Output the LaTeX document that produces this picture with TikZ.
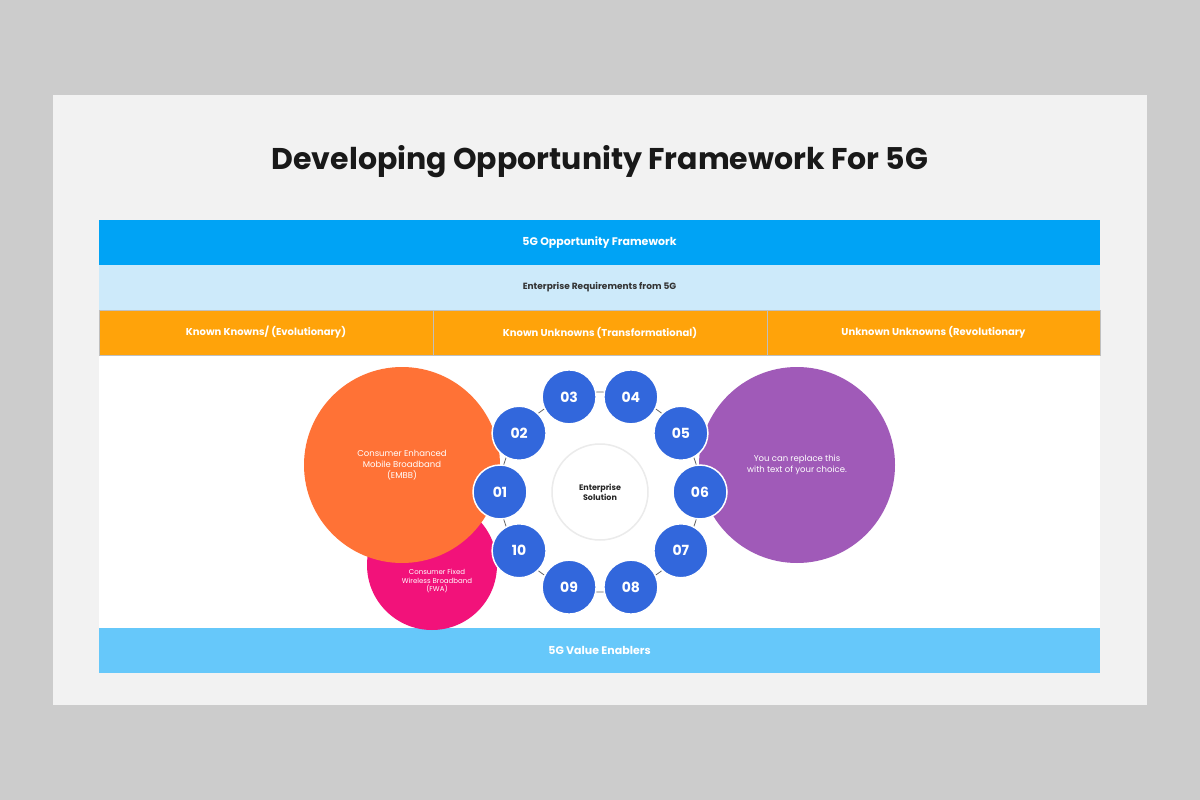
\documentclass[tikz,border=0pt]{standalone}
\usepackage{fontspec}
\setmainfont{Poppins}
\usepackage{tikz}
\definecolor{PageGray}{HTML}{CCCCCC}
\definecolor{SlideGray}{HTML}{F2F2F2}
\definecolor{BarBlue}{HTML}{00A3F5}
\definecolor{BarLight}{HTML}{CDEAFA}
\definecolor{BarOrange}{HTML}{FFA30A}
\definecolor{BarSky}{HTML}{66C8FA}
\definecolor{DotBlue}{HTML}{3267DC}
\definecolor{EmbbOrange}{HTML}{FF7236}
\definecolor{FwaPink}{HTML}{F2127A}
\definecolor{ChoicePurple}{HTML}{A05AB8}
\usetikzlibrary{calc}

\begin{document}
\begin{tikzpicture}[
		x=1pt, y=-1pt,
		bar/.style={minimum height=45pt, inner sep=0pt, font=\fontsize{11}{13}\selectfont\bfseries},
		dot/.style={circle, fill=DotBlue, draw=white, line width=1.5pt, minimum size=54pt, inner sep=0pt, text=white, font=\fontsize{14}{16}\selectfont\bfseries},
		bubble/.style={circle, inner sep=0pt, align=center, text=white}
	]
		\fill[PageGray] (0,0) rectangle (1200,800);
		\useasboundingbox (0,0) rectangle (1200,800);
		\fill[SlideGray] (53,95) rectangle (1147,705);
		\node[font=\fontsize{30}{36}\selectfont\bfseries, text=black!90] (title) at (600,162) {Developing Opportunity Framework For 5G};

		% bars
		\node[bar, fill=BarBlue, text=white, minimum width=1001pt] (frame) at (599.5,242.5) {5G Opportunity Framework};
		\node[bar, fill=BarLight, text=black!80, minimum width=1001pt, font=\fontsize{9}{11}\selectfont\bfseries] (req) at (599.5,287.5) {Enterprise Requirements from 5G};
		\fill[white] (99,355) rectangle (1100,628);
		\node[bar, fill=BarOrange, draw=black!25, text=white, minimum width=334pt, font=\fontsize{10}{12}\selectfont\bfseries] (known) at (266,332.5) {Known Knowns/ (Evolutionary)};
		\node[bar, fill=BarOrange, draw=black!25, text=white, minimum width=334pt, font=\fontsize{10}{12}\selectfont\bfseries] (trans) at (600,332.5) {Known Unknowns (Transformational)};
		\node[bar, fill=BarOrange, draw=black!25, text=white, minimum width=333pt, font=\fontsize{10}{12}\selectfont\bfseries] (revo) at (933.5,332.5) {Unknown Unknowns (Revolutionary};
		\node[bar, fill=BarSky, text=white, minimum width=1001pt] (enablers) at (599.5,650) {5G Value Enablers};

		% bubbles
		\node[bubble, fill=FwaPink, minimum size=130pt, font=\fontsize{7}{8.5}\selectfont, text depth=0pt] (fwa) at (432,565) {};
		\node[font=\fontsize{7}{8.5}\selectfont, text=white, align=center] at (437,581) {Consumer Fixed\\Wireless Broadband\\(FWA)};
		\node[bubble, fill=EmbbOrange, minimum size=196pt, font=\fontsize{8.5}{11}\selectfont] (embb) at (402,465) {Consumer Enhanced\\Mobile Broadband\\(EMBB)};
		\node[bubble, fill=ChoicePurple, minimum size=196pt, font=\fontsize{8.5}{11}\selectfont] (choice) at (797,465) {You can replace this\\with text of your choice.};

		% ring
		\draw[black!60, line width=0.8pt] (600,492) circle (100);
		\node[circle, fill=white, draw=black!8, line width=1.5pt, minimum size=96pt, align=center, font=\fontsize{8}{10}\selectfont\bfseries, text=black!85] (core) at (600,492) {Enterprise\\Solution};
		\foreach \n/\a in {01/180, 02/144, 03/108, 04/72, 05/36, 06/0, 07/-36, 08/-72, 09/-108, 10/-144}
			\node[dot] (d\n) at ($(core)+({100*cos(\a)},{-100*sin(\a)})$) {\n};
	\end{tikzpicture}
\end{document}
